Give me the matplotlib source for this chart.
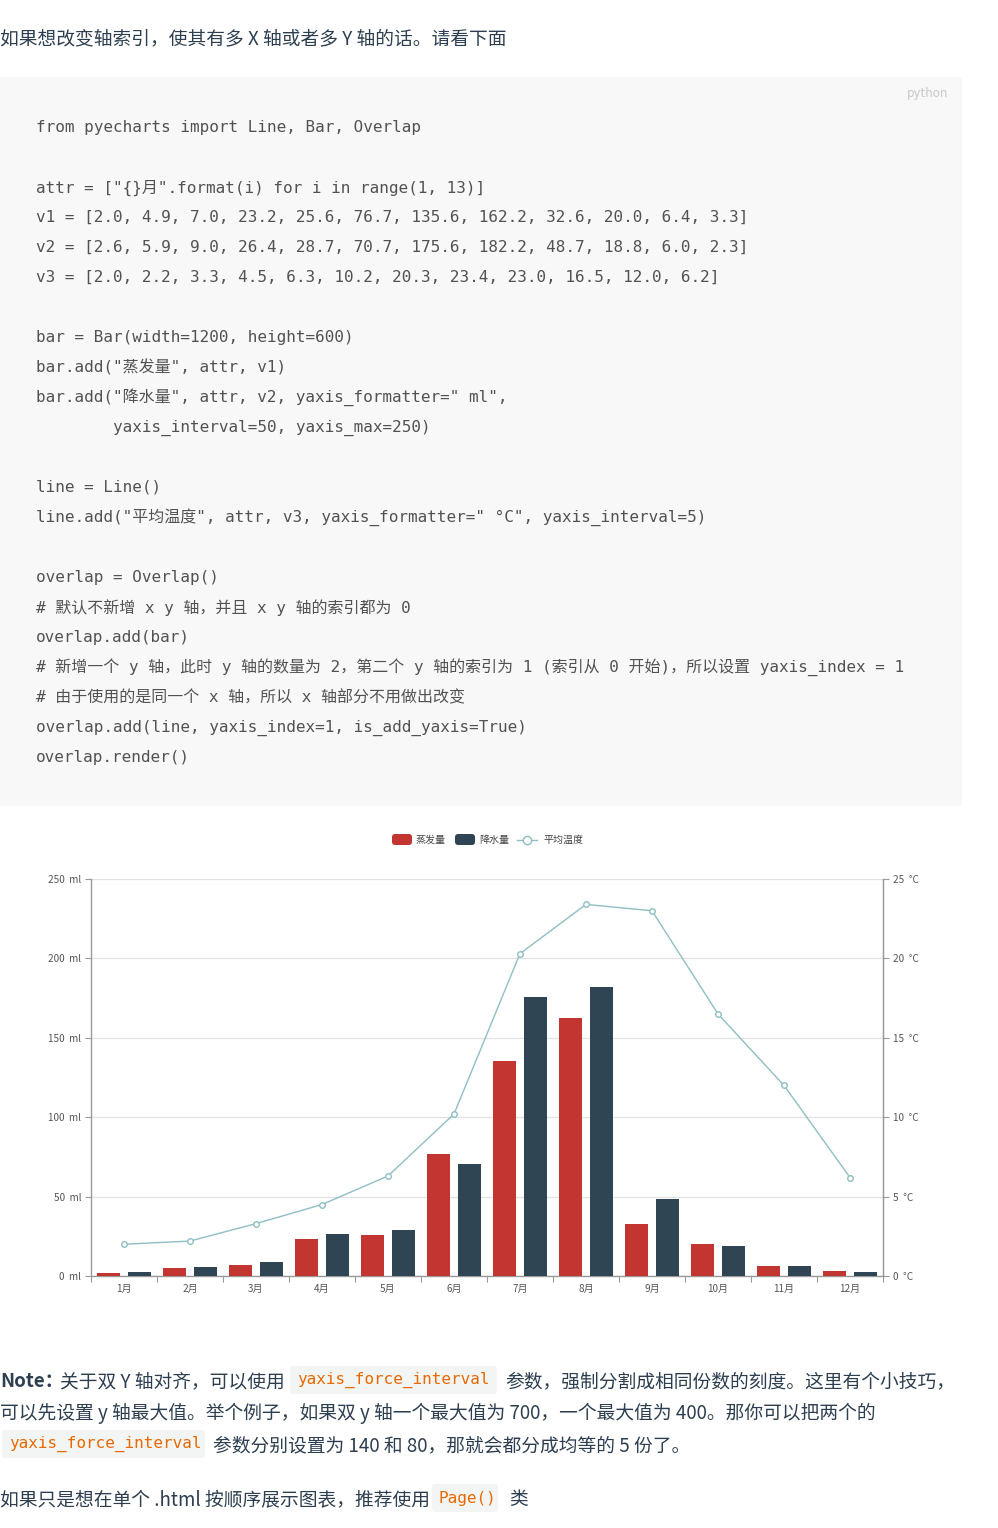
#!/usr/bin/env python3
"""Screenshot-style page: pyecharts overlap snippet, the rendered bar+line chart, and notes."""
import matplotlib
matplotlib.use("Agg")
import matplotlib.pyplot as plt
from matplotlib.patches import FancyBboxPatch, Rectangle
from matplotlib.lines import Line2D
import numpy as np

W, H = 998, 1528

# chart data
MONTHS = ["{}月".format(i) for i in range(1, 13)]
EVAP = [2.0, 4.9, 7.0, 23.2, 25.6, 76.7, 135.6, 162.2, 32.6, 20.0, 6.4, 3.3]
RAIN = [2.6, 5.9, 9.0, 26.4, 28.7, 70.7, 175.6, 182.2, 48.7, 18.8, 6.0, 2.3]
TEMP = [2.0, 2.2, 3.3, 4.5, 6.3, 10.2, 20.3, 23.4, 23.0, 16.5, 12.0, 6.2]
LEGEND_NAMES = ["蒸发量", "降水量", "平均温度"]
LEFT_TICKS = [0, 50, 100, 150, 200, 250]
RIGHT_TICKS = [0, 5, 10, 15, 20, 25]

CODE_LINES = [
    (127, 'from pyecharts import Line, Bar, Overlap'),
    (187, 'attr = ["{}月".format(i) for i in range(1, 13)]'),
    (217, 'v1 = [2.0, 4.9, 7.0, 23.2, 25.6, 76.7, 135.6, 162.2, 32.6, 20.0, 6.4, 3.3]'),
    (247, 'v2 = [2.6, 5.9, 9.0, 26.4, 28.7, 70.7, 175.6, 182.2, 48.7, 18.8, 6.0, 2.3]'),
    (277, 'v3 = [2.0, 2.2, 3.3, 4.5, 6.3, 10.2, 20.3, 23.4, 23.0, 16.5, 12.0, 6.2]'),
    (337, 'bar = Bar(width=1200, height=600)'),
    (367, 'bar.add("蒸发量", attr, v1)'),
    (397, 'bar.add("降水量", attr, v2, yaxis_formatter=" ml",'),
    (427, '        yaxis_interval=50, yaxis_max=250)'),
    (487, 'line = Line()'),
    (517, 'line.add("平均温度", attr, v3, yaxis_formatter=" °C", yaxis_interval=5)'),
    (577, 'overlap = Overlap()'),
    (607, '# 默认不新增 x y 轴，并且 x y 轴的索引都为 0'),
    (637, 'overlap.add(bar)'),
    (667, '# 新增一个 y 轴，此时 y 轴的数量为 2，第二个 y 轴的索引为 1 (索引从 0 开始)，所以设置 yaxis_index = 1'),
    (697, '# 由于使用的是同一个 x 轴，所以 x 轴部分不用做出改变'),
    (727, 'overlap.add(line, yaxis_index=1, is_add_yaxis=True)'),
    (757, 'overlap.render()'),
]

TEXT_C = "#2c3e50"
CODE_C = "#525252"
INLINE_C = "#e96900"
RED, DARK, TEAL = "#c23531", "#2f4554", "#8fbec3"
CJK = ["Noto Sans CJK SC", "DejaVu Sans"]
MONO = ["DejaVu Sans Mono", "Noto Sans CJK SC"]
BODY_FS = 13.5
CODE_FS = 11.5
CHART_FS = 7.2

fig = plt.figure(figsize=(W / 100, H / 100), dpi=100)
T = fig.dpi_scale_trans


def P(x, y):
    return x / 100, (H - y) / 100


def txt(x, y, s, **kw):
    kw.setdefault("va", "center")
    fig.text(*P(x, y), s, transform=T, **kw)


def body(x, y, s, **kw):
    # CJK glyph boxes sit a little high with va="center"
    txt(x, y + 1.5, s, family=CJK, fontsize=BODY_FS, color=TEXT_C, **kw)


def inline_code(x0, x1, y, s):
    bx, by = P(x0, y + 14)
    fig.patches.append(FancyBboxPatch(
        (bx, by), (x1 - x0) / 100, 0.28,
        boxstyle="round,pad=0,rounding_size=0.03",
        transform=T, facecolor="#f3f4f4", edgecolor="none"))
    txt(x0 + 7, y, s, family=MONO, fontsize=CODE_FS, color=INLINE_C)


# heading
body(0, 37, "如果想改变轴索引，使其有多 X 轴或者多 Y 轴的话。请看下面")

# code block
fig.patches.append(Rectangle(P(0, 806), 962 / 100, (806 - 77) / 100,
                             transform=T, facecolor="#f8f8f8", edgecolor="none"))
txt(948, 93, "python", family="DejaVu Sans", fontsize=8.5, color="#c8c8c8", ha="right")
for y, line in CODE_LINES:
    txt(36, y + 0.5, line, family=MONO, fontsize=CODE_FS, color=CODE_C)

# chart
ax = fig.add_axes([91 / W, 1 - 1276 / H, (883 - 91) / W, (1276 - 879) / H])
x = np.arange(len(MONTHS))
bw = 0.35
ax.bar(x - 0.235, EVAP, bw, color=RED, zorder=3)
ax.bar(x + 0.235, RAIN, bw, color=DARK, zorder=3)
ax.set_xlim(-0.5, len(MONTHS) - 0.5)
ax.set_ylim(0, 250)
ax.set_yticks(LEFT_TICKS)
ax.set_yticklabels(["{}  ml".format(v) for v in LEFT_TICKS], family=CJK, fontsize=CHART_FS, color="#555")
ax.grid(axis="y", color="#e2e2e2", lw=0.9, zorder=0)
ax.set_xticks(np.arange(-0.5, len(MONTHS)), labels=[""] * (len(MONTHS) + 1))
ax.set_xticks(x, labels=MONTHS, minor=True)
for lab in ax.get_xticklabels(minor=True):
    lab.set_family(CJK)
    lab.set_fontsize(CHART_FS)
    lab.set_color("#555")
ax.tick_params(axis="x", which="major", length=4, color="#999")
ax.tick_params(axis="x", which="minor", length=0, pad=6)
ax.tick_params(axis="y", length=4, color="#999", pad=3)
ax.spines["top"].set_visible(False)
for side in ("left", "bottom", "right"):
    ax.spines[side].set_color("#999")
    ax.spines[side].set_linewidth(1)

ax2 = ax.twinx()
ax2.plot(x, TEMP, color=TEAL, lw=1, marker="o", ms=4, mfc="white", mec=TEAL, mew=1, zorder=4)
ax2.set_ylim(0, 25)
ax2.set_yticks(RIGHT_TICKS)
ax2.set_yticklabels(["{}  °C".format(v) for v in RIGHT_TICKS], family=CJK, fontsize=CHART_FS, color="#555")
ax2.tick_params(axis="y", length=4, color="#999", pad=3)
for side in ("top", "left", "bottom"):
    ax2.spines[side].set_visible(False)
ax2.spines["right"].set_color("#999")

# legend
for (x0, name, col) in [(392, LEGEND_NAMES[0], RED), (455, LEGEND_NAMES[1], DARK)]:
    bx, by = P(x0, 845)
    fig.patches.append(FancyBboxPatch((bx, by), 0.2, 0.11,
                                      boxstyle="round,pad=0,rounding_size=0.03",
                                      transform=T, facecolor=col, edgecolor="none"))
    txt(x0 + 24, 840, name, family=CJK, fontsize=CHART_FS, color="#444")
lx0, ly = P(517, 839.5)
lx1, _ = P(537, 839.5)
fig.lines.append(Line2D([lx0, lx1], [ly, ly], transform=T, color=TEAL, lw=1))
fig.lines.append(Line2D([(lx0 + lx1) / 2], [ly], transform=T, marker="o", ms=6,
                        mfc="white", mec=TEAL, mew=1, lw=0))
txt(543, 840, LEGEND_NAMES[2], family=CJK, fontsize=CHART_FS, color="#444")

# notes
body(0, 1380, "Note：", weight="bold")
body(60, 1380, "关于双 Y 轴对齐，可以使用")
inline_code(290, 497, 1380, "yaxis_force_interval")
body(505, 1380, "参数，强制分割成相同份数的刻度。这里有个小技巧，")
body(0, 1412, "可以先设置 y 轴最大值。举个例子，如果双 y 轴一个最大值为 700，一个最大值为 400。那你可以把两个的")
inline_code(2, 205, 1444, "yaxis_force_interval")
body(213, 1444, "参数分别设置为 140 和 80，那就会都分成均等的 5 份了。")
body(0, 1498, "如果只是想在单个 .html 按顺序展示图表，推荐使用")
inline_code(432, 498, 1498, "Page()")
body(509, 1498, "类")

fig.savefig("out.png", dpi=100)
